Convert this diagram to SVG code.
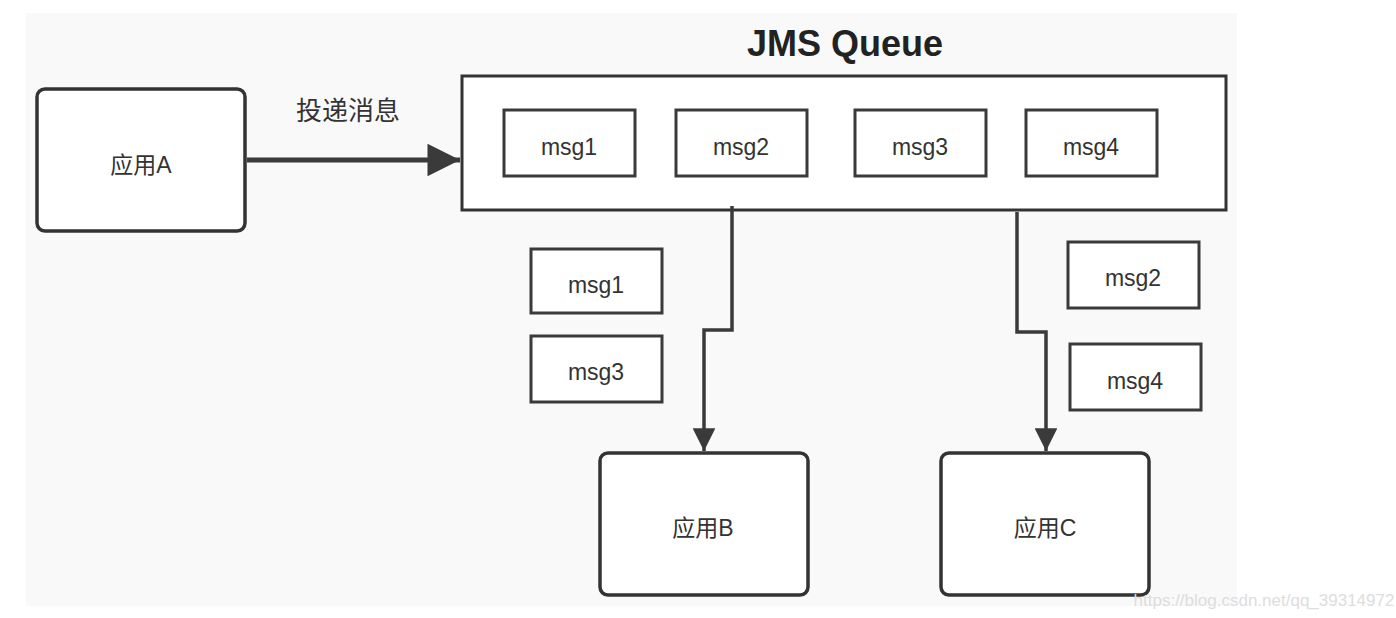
<svg xmlns="http://www.w3.org/2000/svg" width="1396" height="618" viewBox="0 0 1396 618">
<style>
.app{fill:#fff;stroke:#333;stroke-width:3.5}
.msg{fill:#fff;stroke:#3a3a3a;stroke-width:3}
.t{font-family:"Liberation Sans","Noto Sans CJK SC",sans-serif;font-size:23px;fill:#333;text-anchor:middle;dominant-baseline:central}
.c{fill:none;stroke:#3a3a3a;stroke-width:3.5}
</style>
<defs>
<marker id="a2" viewBox="0 0 10 10" refX="10" refY="5" markerWidth="9" markerHeight="6.5" orient="auto"><path d="M0,0L10,5L0,10z" fill="#3a3a3a"/></marker></defs>
<rect width="1396" height="618" fill="#fff"/>
<rect x="26" y="13" width="1211" height="593" fill="#f9f9f9"/>
<text x="845" y="43" class="t" style="font-size:36px;fill:#222;font-weight:bold">JMS Queue</text>
<text x="348" y="111" class="t" style="font-size:26px">投递消息</text>
<g id="queue"><rect x="462" y="76" width="764" height="134" class="app" style="stroke-width:3"/></g>
<g id="q1"><rect x="504" y="110" width="131" height="66" class="msg"/><text x="569" y="147" class="t">msg1</text></g>
<g id="q2"><rect x="676" y="110" width="131" height="66" class="msg"/><text x="741" y="147" class="t">msg2</text></g>
<g id="q3"><rect x="855" y="110" width="131" height="66" class="msg"/><text x="920" y="147" class="t">msg3</text></g>
<g id="q4"><rect x="1026" y="110" width="131" height="66" class="msg"/><text x="1091" y="147" class="t">msg4</text></g>
<g id="b1"><rect x="531" y="249" width="131" height="64" class="msg"/><text x="596" y="285" class="t">msg1</text></g>
<g id="b3"><rect x="531" y="336" width="131" height="66" class="msg"/><text x="596" y="372" class="t">msg3</text></g>
<g id="c2"><rect x="1068" y="242" width="131" height="66" class="msg"/><text x="1133" y="278" class="t">msg2</text></g>
<g id="c4"><rect x="1070" y="344" width="131" height="66" class="msg"/><text x="1135" y="381" class="t">msg4</text></g>
<g id="appA"><rect x="37" y="89" width="208" height="142" rx="8" class="app"/><text x="141" y="165" class="t">应用A</text></g>
<g id="appB"><rect x="600" y="453" width="208" height="142" rx="8" class="app"/><text x="703" y="528" class="t">应用B</text></g>
<g id="appC"><rect x="941" y="453" width="208" height="142" rx="8" class="app"/><text x="1045" y="528" class="t">应用C</text></g>
<g id="connectors">
<path d="M247,160H460" class="c" style="stroke-width:5" marker-end="url(#a2)"/>
<path d="M732,206V330H704V451" class="c" marker-end="url(#a2)"/>
<path d="M1017,212V332H1046V451" class="c" marker-end="url(#a2)"/>
</g>
<text x="1264" y="606" style="font-family:'Liberation Sans',sans-serif;font-size:17px;fill:#ddd;text-anchor:middle">https://blog.csdn.net/qq_39314972</text>
</svg>
